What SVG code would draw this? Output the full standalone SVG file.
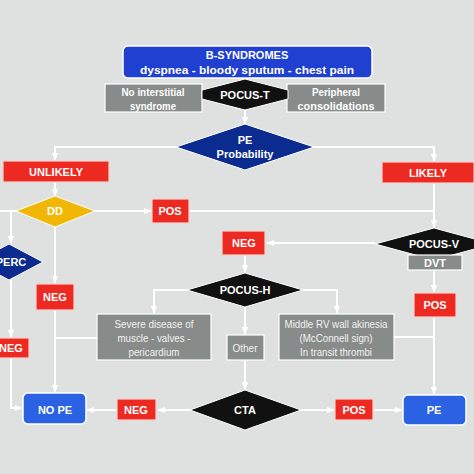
<svg xmlns="http://www.w3.org/2000/svg" width="474" height="474" viewBox="0 0 474 474">
<defs>
<marker id="ah" viewBox="0 0 10 10" refX="9" refY="5" markerWidth="4" markerHeight="4" orient="auto-start-reverse" markerUnits="strokeWidth">
<path d="M0,1 L10,5 L0,9 Z" fill="#ffffff"/>
</marker>
<style>
.bg{fill:#dfe1e1}
.red{fill:#ec2a22;stroke:#f6d2cc;stroke-width:1.2}
.gray{fill:#878b8a;stroke:#ffffff;stroke-width:1.2}
.blue{fill:#1f40d0;stroke:#ffffff;stroke-width:1.5}
.lblue{fill:#2a62e3;stroke:#ffffff;stroke-width:1.5}
.navy{fill:#0c2b8e;stroke:#ffffff;stroke-width:1}
.black{fill:#111111;stroke:#ffffff;stroke-width:1}
.gold{fill:#f2b705;stroke:#ffffff;stroke-width:1}
.t{font-family:"Liberation Sans",Arial,sans-serif;font-weight:bold;fill:#ffffff;text-anchor:middle;font-size:11px}
.n{font-family:"Liberation Sans",Arial,sans-serif;fill:#f2f2f2;text-anchor:middle;font-size:11.5px}
.c{fill:none;stroke:#ffffff;stroke-width:2}
</style>
</defs>
<rect class="bg" x="0" y="0" width="474" height="474"/>

<g id="connectors">
<line class="c" x1="245" y1="110" x2="245" y2="124" marker-end="url(#ah)"/>
<polyline class="c" points="176,147 55,147 55,160" marker-end="url(#ah)"/>
<polyline class="c" points="314,147 434,147 434,161" marker-end="url(#ah)"/>
<line class="c" x1="55" y1="182" x2="55" y2="196" marker-end="url(#ah)"/>
<line class="c" x1="95" y1="211" x2="151" y2="211" marker-end="url(#ah)"/>
<polyline class="c" points="189,211 434,211"/>
<line class="c" x1="434" y1="183" x2="434" y2="227" marker-end="url(#ah)"/>
<polyline class="c" points="16,211 0,211"/>
<line class="c" x1="11" y1="211" x2="11" y2="243" marker-end="url(#ah)"/>
<line class="c" x1="11" y1="280" x2="11" y2="337" marker-end="url(#ah)"/>
<polyline class="c" points="11,358 11,408 22,408" marker-end="url(#ah)"/>
<line class="c" x1="55" y1="227" x2="55" y2="283" marker-end="url(#ah)"/>
<line class="c" x1="55" y1="310" x2="55" y2="392" marker-end="url(#ah)"/>
<line class="c" x1="97" y1="338" x2="55" y2="338"/>
<line class="c" x1="375" y1="243" x2="267" y2="243" marker-end="url(#ah)"/>
<line class="c" x1="245" y1="255" x2="245" y2="272" marker-end="url(#ah)"/>
<polyline class="c" points="187,290 154,290 154,313" marker-end="url(#ah)"/>
<polyline class="c" points="303,290 337,290 337,313" marker-end="url(#ah)"/>
<line class="c" x1="245" y1="307" x2="245" y2="334" marker-end="url(#ah)"/>
<line class="c" x1="245" y1="360" x2="245" y2="389" marker-end="url(#ah)"/>
<line class="c" x1="434" y1="270" x2="434" y2="292" marker-end="url(#ah)"/>
<line class="c" x1="434" y1="317" x2="434" y2="394" marker-end="url(#ah)"/>
<line class="c" x1="394" y1="337" x2="434" y2="337"/>
<line class="c" x1="190" y1="410" x2="158" y2="410" marker-end="url(#ah)"/>
<line class="c" x1="117" y1="410" x2="87" y2="410" marker-end="url(#ah)"/>
<line class="c" x1="301" y1="410" x2="334" y2="410" marker-end="url(#ah)"/>
<line class="c" x1="373" y1="410" x2="402" y2="410" marker-end="url(#ah)"/>
</g>

<g id="b-syndromes">
<rect class="blue" x="123" y="46" width="249" height="32" rx="5"/>
<text class="t" x="247" y="59" font-size="11.5">B-SYNDROMES</text>
<text class="t" x="247" y="74" textLength="214" lengthAdjust="spacingAndGlyphs">dyspnea - bloody sputum - chest pain</text>
</g>

<g id="no-interstitial">
<rect class="gray" x="105" y="84" width="97" height="28"/>
<text class="t" x="153" y="96" font-size="11.5" textLength="63" lengthAdjust="spacingAndGlyphs">No interstitial</text>
<text class="t" x="153" y="110" font-size="11.5" textLength="46" lengthAdjust="spacingAndGlyphs">syndrome</text>
</g>

<g id="peripheral">
<rect class="gray" x="287" y="84" width="98" height="28"/>
<text class="t" x="336" y="96" font-size="11.5" textLength="48" lengthAdjust="spacingAndGlyphs">Peripheral</text>
<text class="t" x="336" y="110" font-size="11.5" textLength="77" lengthAdjust="spacingAndGlyphs">consolidations</text>
</g>

<g id="pocus-t">
<polygon class="black" points="245,79 288,90 288,99 245,110 202,99 202,90"/>
<text class="t" x="245" y="99" font-size="11.5">POCUS-T</text>
</g>

<g id="pe-probability">
<polygon class="navy" points="245,124 314,147 245,170 176,147"/>
<text class="t" x="245" y="144" font-size="11.5">PE</text>
<text class="t" x="245" y="158" font-size="11.5">Probability</text>
</g>

<g id="unlikely">
<rect class="red" x="3" y="161" width="106" height="21"/>
<text class="t" x="56" y="176" font-size="11.5">UNLIKELY</text>
</g>

<g id="likely">
<rect class="red" x="382" y="162" width="92" height="21"/>
<text class="t" x="428" y="177" font-size="11.5">LIKELY</text>
</g>

<g id="dd">
<polygon class="gold" points="55,196 95,211 55,227 16,211"/>
<text class="t" x="55" y="215">DD</text>
</g>

<g id="pos-dd">
<rect class="red" x="152" y="199" width="37" height="24"/>
<text class="t" x="170" y="215">POS</text>
</g>

<g id="perc">
<polygon class="navy" points="9,244 43,262 9,280 -25,262"/>
<text class="t" x="11" y="266">PERC</text>
</g>

<g id="neg-perc">
<rect class="red" x="-12" y="338" width="41" height="20"/>
<text class="t" x="11" y="352">NEG</text>
</g>

<g id="neg-dd">
<rect class="red" x="36" y="284" width="38" height="26"/>
<text class="t" x="55" y="301">NEG</text>
</g>

<g id="pocus-v">
<polygon class="black" points="434,228 493,244 434,260 375,244"/>
<text class="t" x="434" y="248" font-size="11.5">POCUS-V</text>
</g>

<g id="dvt">
<rect class="gray" x="408" y="255" width="54" height="15"/>
<text class="t" x="435" y="266.5" font-size="10.5">DVT</text>
</g>

<g id="neg-v">
<rect class="red" x="222" y="231" width="43" height="24"/>
<text class="t" x="244" y="247">NEG</text>
</g>

<g id="pocus-h">
<polygon class="black" points="245,273 303,290 245,307 187,290"/>
<text class="t" x="245" y="294" font-size="11.5">POCUS-H</text>
</g>

<g id="severe">
<rect class="gray" x="97" y="314" width="114" height="46"/>
<text class="n" x="154" y="328" textLength="79" lengthAdjust="spacingAndGlyphs">Severe disease of</text>
<text class="n" x="154" y="342" textLength="73" lengthAdjust="spacingAndGlyphs">muscle - valves -</text>
<text class="n" x="154" y="356" textLength="51" lengthAdjust="spacingAndGlyphs">pericardium</text>
</g>

<g id="other">
<rect class="gray" x="227" y="335" width="37" height="25"/>
<text class="n" x="245" y="352" textLength="25" lengthAdjust="spacingAndGlyphs">Other</text>
</g>

<g id="middle-rv">
<rect class="gray" x="279" y="314" width="115" height="46"/>
<text class="n" x="336" y="328" textLength="103" lengthAdjust="spacingAndGlyphs">Middle RV wall akinesia</text>
<text class="n" x="336" y="342" textLength="73" lengthAdjust="spacingAndGlyphs">(McConnell sign)</text>
<text class="n" x="336" y="356" textLength="72" lengthAdjust="spacingAndGlyphs">In transit thrombi</text>
</g>

<g id="pos-v">
<rect class="red" x="414" y="293" width="42" height="24"/>
<text class="t" x="435" y="309">POS</text>
</g>

<g id="cta">
<polygon class="black" points="245,390 301,410 245,430 190,410"/>
<text class="t" x="245" y="414">CTA</text>
</g>

<g id="neg-cta">
<rect class="red" x="117" y="399" width="39" height="21"/>
<text class="t" x="136" y="414">NEG</text>
</g>

<g id="pos-cta">
<rect class="red" x="335" y="399" width="38" height="21"/>
<text class="t" x="354" y="414">POS</text>
</g>

<g id="no-pe">
<rect class="lblue" x="23" y="393" width="63" height="31" rx="5"/>
<text class="t" x="55" y="414" font-size="11.5">NO PE</text>
</g>

<g id="pe">
<rect class="lblue" x="403" y="395" width="63" height="30" rx="5"/>
<text class="t" x="434" y="414" font-size="11.5">PE</text>
</g>
</svg>
